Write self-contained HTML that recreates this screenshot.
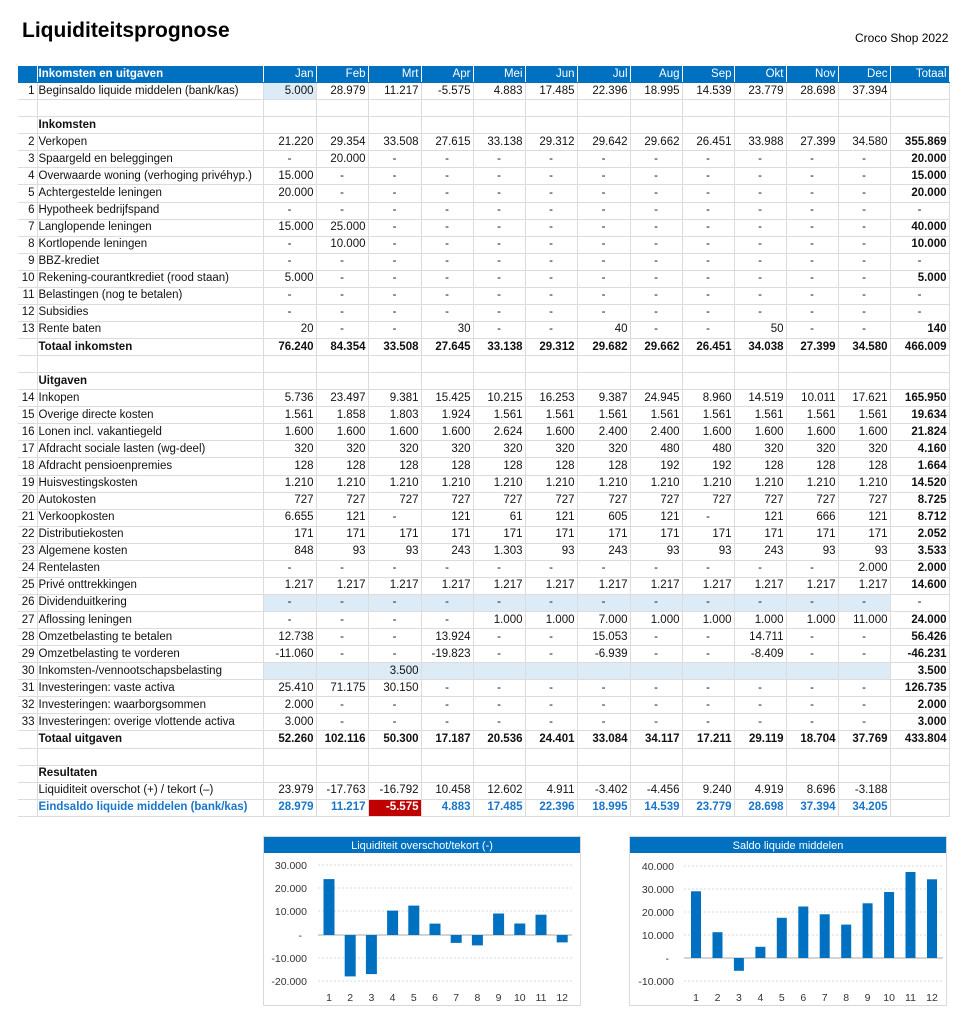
<!DOCTYPE html>
<html><head><meta charset="utf-8">
<style>
body{margin:0;width:966px;height:1024px;background:#fff;position:relative;font-family:"Liberation Sans",sans-serif;overflow:hidden}
h1{position:absolute;left:22px;top:19px;margin:0;font-size:21px;font-weight:bold;color:#000}
.shop{position:absolute;left:855px;top:31px;font-size:12px}
table{position:absolute;left:18px;top:66px;border-collapse:collapse;table-layout:fixed;width:931px;font-size:11.5px;color:#111}
td{height:16.07px;padding:0 2px;border:1px solid #dcdcdc;border-left:none;border-right:1px solid #dcdcdc;text-align:right;white-space:nowrap;overflow:hidden;line-height:15px}
td:first-child{border-right:1px solid #dcdcdc;padding-right:2px}
td:nth-child(2){text-align:left;padding-left:1px}
tr.h td{background:#0070c0;color:#fff;font-weight:bold;border-color:#fff;border-bottom:1px solid #0070c0;border-top:none}
tr.h td:nth-child(n+3){font-weight:normal}
td.c{text-align:center}
td.b{font-weight:bold}
tr.t td{font-weight:bold;border-top:1.5px solid #000}
tr.t td:first-child{border-top:1.5px solid #000}
.bl{background:#ddebf7}
tr.e td{color:#1a75c9;font-weight:bold}
tr.e td.red{background:#c00000;color:#fff}
</style></head><body>
<h1>Liquiditeitsprognose</h1>
<div class="shop">Croco Shop 2022</div>
<table>
<colgroup><col style="width:19px"><col style="width:226px"><col style="width:53px"><col style="width:52px"><col style="width:53px"><col style="width:52px"><col style="width:52px"><col style="width:52px"><col style="width:53px"><col style="width:52px"><col style="width:52px"><col style="width:52px"><col style="width:52px"><col style="width:52px"><col style="width:59px"></colgroup>
<tr class="h"><td></td><td>Inkomsten en uitgaven</td><td>Jan</td><td>Feb</td><td>Mrt</td><td>Apr</td><td>Mei</td><td>Jun</td><td>Jul</td><td>Aug</td><td>Sep</td><td>Okt</td><td>Nov</td><td>Dec</td><td>Totaal</td></tr>
<tr><td>1</td><td>Beginsaldo liquide middelen (bank/kas)</td><td class="bl">5.000</td><td>28.979</td><td>11.217</td><td>-5.575</td><td>4.883</td><td>17.485</td><td>22.396</td><td>18.995</td><td>14.539</td><td>23.779</td><td>28.698</td><td>37.394</td><td></td></tr>
<tr><td></td><td></td><td></td><td></td><td></td><td></td><td></td><td></td><td></td><td></td><td></td><td></td><td></td><td></td><td></td></tr>
<tr><td></td><td class="b">Inkomsten</td><td></td><td></td><td></td><td></td><td></td><td></td><td></td><td></td><td></td><td></td><td></td><td></td><td></td></tr>
<tr><td>2</td><td>Verkopen</td><td>21.220</td><td>29.354</td><td>33.508</td><td>27.615</td><td>33.138</td><td>29.312</td><td>29.642</td><td>29.662</td><td>26.451</td><td>33.988</td><td>27.399</td><td>34.580</td><td class="b">355.869</td></tr>
<tr><td>3</td><td>Spaargeld en beleggingen</td><td class="c">-</td><td>20.000</td><td class="c">-</td><td class="c">-</td><td class="c">-</td><td class="c">-</td><td class="c">-</td><td class="c">-</td><td class="c">-</td><td class="c">-</td><td class="c">-</td><td class="c">-</td><td class="b">20.000</td></tr>
<tr><td>4</td><td>Overwaarde woning (verhoging privéhyp.)</td><td>15.000</td><td class="c">-</td><td class="c">-</td><td class="c">-</td><td class="c">-</td><td class="c">-</td><td class="c">-</td><td class="c">-</td><td class="c">-</td><td class="c">-</td><td class="c">-</td><td class="c">-</td><td class="b">15.000</td></tr>
<tr><td>5</td><td>Achtergestelde leningen</td><td>20.000</td><td class="c">-</td><td class="c">-</td><td class="c">-</td><td class="c">-</td><td class="c">-</td><td class="c">-</td><td class="c">-</td><td class="c">-</td><td class="c">-</td><td class="c">-</td><td class="c">-</td><td class="b">20.000</td></tr>
<tr><td>6</td><td>Hypotheek bedrijfspand</td><td class="c">-</td><td class="c">-</td><td class="c">-</td><td class="c">-</td><td class="c">-</td><td class="c">-</td><td class="c">-</td><td class="c">-</td><td class="c">-</td><td class="c">-</td><td class="c">-</td><td class="c">-</td><td class="c">-</td></tr>
<tr><td>7</td><td>Langlopende leningen</td><td>15.000</td><td>25.000</td><td class="c">-</td><td class="c">-</td><td class="c">-</td><td class="c">-</td><td class="c">-</td><td class="c">-</td><td class="c">-</td><td class="c">-</td><td class="c">-</td><td class="c">-</td><td class="b">40.000</td></tr>
<tr><td>8</td><td>Kortlopende leningen</td><td class="c">-</td><td>10.000</td><td class="c">-</td><td class="c">-</td><td class="c">-</td><td class="c">-</td><td class="c">-</td><td class="c">-</td><td class="c">-</td><td class="c">-</td><td class="c">-</td><td class="c">-</td><td class="b">10.000</td></tr>
<tr><td>9</td><td>BBZ-krediet</td><td class="c">-</td><td class="c">-</td><td class="c">-</td><td class="c">-</td><td class="c">-</td><td class="c">-</td><td class="c">-</td><td class="c">-</td><td class="c">-</td><td class="c">-</td><td class="c">-</td><td class="c">-</td><td class="c">-</td></tr>
<tr><td>10</td><td>Rekening-courantkrediet (rood staan)</td><td>5.000</td><td class="c">-</td><td class="c">-</td><td class="c">-</td><td class="c">-</td><td class="c">-</td><td class="c">-</td><td class="c">-</td><td class="c">-</td><td class="c">-</td><td class="c">-</td><td class="c">-</td><td class="b">5.000</td></tr>
<tr><td>11</td><td>Belastingen (nog te betalen)</td><td class="c">-</td><td class="c">-</td><td class="c">-</td><td class="c">-</td><td class="c">-</td><td class="c">-</td><td class="c">-</td><td class="c">-</td><td class="c">-</td><td class="c">-</td><td class="c">-</td><td class="c">-</td><td class="c">-</td></tr>
<tr><td>12</td><td>Subsidies</td><td class="c">-</td><td class="c">-</td><td class="c">-</td><td class="c">-</td><td class="c">-</td><td class="c">-</td><td class="c">-</td><td class="c">-</td><td class="c">-</td><td class="c">-</td><td class="c">-</td><td class="c">-</td><td class="c">-</td></tr>
<tr><td>13</td><td>Rente baten</td><td>20</td><td class="c">-</td><td class="c">-</td><td>30</td><td class="c">-</td><td class="c">-</td><td>40</td><td class="c">-</td><td class="c">-</td><td>50</td><td class="c">-</td><td class="c">-</td><td class="b">140</td></tr>
<tr class="t"><td></td><td>Totaal inkomsten</td><td>76.240</td><td>84.354</td><td>33.508</td><td>27.645</td><td>33.138</td><td>29.312</td><td>29.682</td><td>29.662</td><td>26.451</td><td>34.038</td><td>27.399</td><td>34.580</td><td>466.009</td></tr>
<tr><td></td><td></td><td></td><td></td><td></td><td></td><td></td><td></td><td></td><td></td><td></td><td></td><td></td><td></td><td></td></tr>
<tr><td></td><td class="b">Uitgaven</td><td></td><td></td><td></td><td></td><td></td><td></td><td></td><td></td><td></td><td></td><td></td><td></td><td></td></tr>
<tr><td>14</td><td>Inkopen</td><td>5.736</td><td>23.497</td><td>9.381</td><td>15.425</td><td>10.215</td><td>16.253</td><td>9.387</td><td>24.945</td><td>8.960</td><td>14.519</td><td>10.011</td><td>17.621</td><td class="b">165.950</td></tr>
<tr><td>15</td><td>Overige directe kosten</td><td>1.561</td><td>1.858</td><td>1.803</td><td>1.924</td><td>1.561</td><td>1.561</td><td>1.561</td><td>1.561</td><td>1.561</td><td>1.561</td><td>1.561</td><td>1.561</td><td class="b">19.634</td></tr>
<tr><td>16</td><td>Lonen incl. vakantiegeld</td><td>1.600</td><td>1.600</td><td>1.600</td><td>1.600</td><td>2.624</td><td>1.600</td><td>2.400</td><td>2.400</td><td>1.600</td><td>1.600</td><td>1.600</td><td>1.600</td><td class="b">21.824</td></tr>
<tr><td>17</td><td>Afdracht sociale lasten (wg-deel)</td><td>320</td><td>320</td><td>320</td><td>320</td><td>320</td><td>320</td><td>320</td><td>480</td><td>480</td><td>320</td><td>320</td><td>320</td><td class="b">4.160</td></tr>
<tr><td>18</td><td>Afdracht pensioenpremies</td><td>128</td><td>128</td><td>128</td><td>128</td><td>128</td><td>128</td><td>128</td><td>192</td><td>192</td><td>128</td><td>128</td><td>128</td><td class="b">1.664</td></tr>
<tr><td>19</td><td>Huisvestingskosten</td><td>1.210</td><td>1.210</td><td>1.210</td><td>1.210</td><td>1.210</td><td>1.210</td><td>1.210</td><td>1.210</td><td>1.210</td><td>1.210</td><td>1.210</td><td>1.210</td><td class="b">14.520</td></tr>
<tr><td>20</td><td>Autokosten</td><td>727</td><td>727</td><td>727</td><td>727</td><td>727</td><td>727</td><td>727</td><td>727</td><td>727</td><td>727</td><td>727</td><td>727</td><td class="b">8.725</td></tr>
<tr><td>21</td><td>Verkoopkosten</td><td>6.655</td><td>121</td><td class="c">-</td><td>121</td><td>61</td><td>121</td><td>605</td><td>121</td><td class="c">-</td><td>121</td><td>666</td><td>121</td><td class="b">8.712</td></tr>
<tr><td>22</td><td>Distributiekosten</td><td>171</td><td>171</td><td>171</td><td>171</td><td>171</td><td>171</td><td>171</td><td>171</td><td>171</td><td>171</td><td>171</td><td>171</td><td class="b">2.052</td></tr>
<tr><td>23</td><td>Algemene kosten</td><td>848</td><td>93</td><td>93</td><td>243</td><td>1.303</td><td>93</td><td>243</td><td>93</td><td>93</td><td>243</td><td>93</td><td>93</td><td class="b">3.533</td></tr>
<tr><td>24</td><td>Rentelasten</td><td class="c">-</td><td class="c">-</td><td class="c">-</td><td class="c">-</td><td class="c">-</td><td class="c">-</td><td class="c">-</td><td class="c">-</td><td class="c">-</td><td class="c">-</td><td class="c">-</td><td>2.000</td><td class="b">2.000</td></tr>
<tr><td>25</td><td>Privé onttrekkingen</td><td>1.217</td><td>1.217</td><td>1.217</td><td>1.217</td><td>1.217</td><td>1.217</td><td>1.217</td><td>1.217</td><td>1.217</td><td>1.217</td><td>1.217</td><td>1.217</td><td class="b">14.600</td></tr>
<tr><td>26</td><td>Dividenduitkering</td><td class="c bl">-</td><td class="c bl">-</td><td class="c bl">-</td><td class="c bl">-</td><td class="c bl">-</td><td class="c bl">-</td><td class="c bl">-</td><td class="c bl">-</td><td class="c bl">-</td><td class="c bl">-</td><td class="c bl">-</td><td class="c bl">-</td><td class="c">-</td></tr>
<tr><td>27</td><td>Aflossing leningen</td><td class="c">-</td><td class="c">-</td><td class="c">-</td><td class="c">-</td><td>1.000</td><td>1.000</td><td>7.000</td><td>1.000</td><td>1.000</td><td>1.000</td><td>1.000</td><td>11.000</td><td class="b">24.000</td></tr>
<tr><td>28</td><td>Omzetbelasting te betalen</td><td>12.738</td><td class="c">-</td><td class="c">-</td><td>13.924</td><td class="c">-</td><td class="c">-</td><td>15.053</td><td class="c">-</td><td class="c">-</td><td>14.711</td><td class="c">-</td><td class="c">-</td><td class="b">56.426</td></tr>
<tr><td>29</td><td>Omzetbelasting te vorderen</td><td>-11.060</td><td class="c">-</td><td class="c">-</td><td>-19.823</td><td class="c">-</td><td class="c">-</td><td>-6.939</td><td class="c">-</td><td class="c">-</td><td>-8.409</td><td class="c">-</td><td class="c">-</td><td class="b">-46.231</td></tr>
<tr><td>30</td><td>Inkomsten-/vennootschapsbelasting</td><td class="bl"></td><td class="bl"></td><td class="bl">3.500</td><td class="bl"></td><td class="bl"></td><td class="bl"></td><td class="bl"></td><td class="bl"></td><td class="bl"></td><td class="bl"></td><td class="bl"></td><td class="bl"></td><td class="b">3.500</td></tr>
<tr><td>31</td><td>Investeringen: vaste activa</td><td>25.410</td><td>71.175</td><td>30.150</td><td class="c">-</td><td class="c">-</td><td class="c">-</td><td class="c">-</td><td class="c">-</td><td class="c">-</td><td class="c">-</td><td class="c">-</td><td class="c">-</td><td class="b">126.735</td></tr>
<tr><td>32</td><td>Investeringen: waarborgsommen</td><td>2.000</td><td class="c">-</td><td class="c">-</td><td class="c">-</td><td class="c">-</td><td class="c">-</td><td class="c">-</td><td class="c">-</td><td class="c">-</td><td class="c">-</td><td class="c">-</td><td class="c">-</td><td class="b">2.000</td></tr>
<tr><td>33</td><td>Investeringen: overige vlottende activa</td><td>3.000</td><td class="c">-</td><td class="c">-</td><td class="c">-</td><td class="c">-</td><td class="c">-</td><td class="c">-</td><td class="c">-</td><td class="c">-</td><td class="c">-</td><td class="c">-</td><td class="c">-</td><td class="b">3.000</td></tr>
<tr class="t"><td></td><td>Totaal uitgaven</td><td>52.260</td><td>102.116</td><td>50.300</td><td>17.187</td><td>20.536</td><td>24.401</td><td>33.084</td><td>34.117</td><td>17.211</td><td>29.119</td><td>18.704</td><td>37.769</td><td>433.804</td></tr>
<tr><td></td><td></td><td></td><td></td><td></td><td></td><td></td><td></td><td></td><td></td><td></td><td></td><td></td><td></td><td></td></tr>
<tr><td></td><td class="b">Resultaten</td><td></td><td></td><td></td><td></td><td></td><td></td><td></td><td></td><td></td><td></td><td></td><td></td><td></td></tr>
<tr><td></td><td>Liquiditeit overschot (+) / tekort (–)</td><td>23.979</td><td>-17.763</td><td>-16.792</td><td>10.458</td><td>12.602</td><td>4.911</td><td>-3.402</td><td>-4.456</td><td>9.240</td><td>4.919</td><td>8.696</td><td>-3.188</td><td></td></tr>
<tr class="e"><td></td><td>Eindsaldo liquide middelen (bank/kas)</td><td>28.979</td><td>11.217</td><td class="red">-5.575</td><td>4.883</td><td>17.485</td><td>22.396</td><td>18.995</td><td>14.539</td><td>23.779</td><td>28.698</td><td>37.394</td><td>34.205</td><td></td></tr>
</table>
<svg style="position:absolute;left:0;top:0" width="966" height="1024" font-family="Liberation Sans, sans-serif" font-size="10.5" fill="#333">
<rect x="263.5" y="836.5" width="317" height="169" fill="#fff" stroke="#d9d9d9"/>
<rect x="264" y="837" width="316" height="16" fill="#0070c0"/>
<text x="422" y="849" text-anchor="middle" fill="#fff" font-size="11">Liquiditeit overschot/tekort (-)</text>
<g stroke="#d9d9d9" stroke-dasharray="2,2"><line x1="318" x2="572" y1="865" y2="865"/><line x1="318" x2="572" y1="888" y2="888"/><line x1="318" x2="572" y1="911" y2="911"/><line x1="318" x2="572" y1="958" y2="958"/><line x1="318" x2="572" y1="981" y2="981"/></g>
<line x1="318" x2="572" y1="935" y2="935" stroke="#aaa"/>
<g text-anchor="end"><text x="307" y="869">30.000</text><text x="307" y="892">20.000</text><text x="307" y="915">10.000</text><text x="302" y="939">-</text><text x="307" y="962">-10.000</text><text x="307" y="985">-20.000</text></g>
<g fill="#0070c0">
<rect x="323.5" y="879.1" width="11" height="55.9"/><rect x="344.7" y="935" width="11" height="41.4"/><rect x="365.9" y="935" width="11" height="39.1"/><rect x="387.1" y="910.6" width="11" height="24.4"/><rect x="408.3" y="905.6" width="11" height="29.4"/><rect x="429.5" y="923.6" width="11" height="11.4"/><rect x="450.7" y="935" width="11" height="7.9"/><rect x="471.9" y="935" width="11" height="10.4"/><rect x="493.1" y="913.5" width="11" height="21.5"/><rect x="514.3" y="923.5" width="11" height="11.5"/><rect x="535.5" y="914.7" width="11" height="20.3"/><rect x="556.7" y="935" width="11" height="7.4"/>
</g>
<g text-anchor="middle"><text x="329" y="1001">1</text><text x="350.2" y="1001">2</text><text x="371.4" y="1001">3</text><text x="392.6" y="1001">4</text><text x="413.8" y="1001">5</text><text x="435" y="1001">6</text><text x="456.2" y="1001">7</text><text x="477.4" y="1001">8</text><text x="498.6" y="1001">9</text><text x="519.8" y="1001">10</text><text x="541" y="1001">11</text><text x="562.2" y="1001">12</text></g>
<rect x="629.5" y="836.5" width="317" height="169" fill="#fff" stroke="#d9d9d9"/>
<rect x="630" y="837" width="316" height="16" fill="#0070c0"/>
<text x="788" y="849" text-anchor="middle" fill="#fff" font-size="11">Saldo liquide middelen</text>
<g stroke="#d9d9d9" stroke-dasharray="2,2"><line x1="684" x2="943" y1="866" y2="866"/><line x1="684" x2="943" y1="889" y2="889"/><line x1="684" x2="943" y1="912" y2="912"/><line x1="684" x2="943" y1="935" y2="935"/><line x1="684" x2="943" y1="981" y2="981"/></g>
<line x1="684" x2="943" y1="958" y2="958" stroke="#aaa"/>
<g text-anchor="end"><text x="674" y="870">40.000</text><text x="674" y="893">30.000</text><text x="674" y="916">20.000</text><text x="674" y="939">10.000</text><text x="669" y="962">-</text><text x="674" y="985">-10.000</text></g>
<g fill="#0070c0">
<rect x="691" y="891.3" width="10" height="66.7"/><rect x="712.5" y="932.2" width="10" height="25.8"/><rect x="733.9" y="958" width="10" height="12.8"/><rect x="755.4" y="946.8" width="10" height="11.2"/><rect x="776.8" y="917.8" width="10" height="40.2"/><rect x="798.3" y="906.5" width="10" height="51.5"/><rect x="819.7" y="914.3" width="10" height="43.7"/><rect x="841.2" y="924.6" width="10" height="33.4"/><rect x="862.6" y="903.3" width="10" height="54.7"/><rect x="884.1" y="892" width="10" height="66"/><rect x="905.5" y="872" width="10" height="86"/><rect x="927" y="879.3" width="10" height="78.7"/>
</g>
<g text-anchor="middle"><text x="696" y="1001">1</text><text x="717.5" y="1001">2</text><text x="738.9" y="1001">3</text><text x="760.4" y="1001">4</text><text x="781.8" y="1001">5</text><text x="803.3" y="1001">6</text><text x="824.7" y="1001">7</text><text x="846.2" y="1001">8</text><text x="867.6" y="1001">9</text><text x="889.1" y="1001">10</text><text x="910.5" y="1001">11</text><text x="932" y="1001">12</text></g>
</svg>
</body></html>
